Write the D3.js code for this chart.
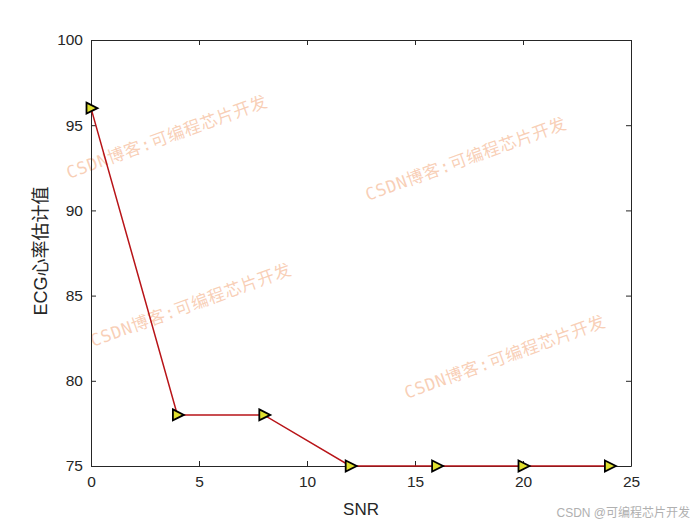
<!DOCTYPE html>
<html><head><meta charset="utf-8">
<script src="https://cdn.jsdelivr.net/npm/d3@7"></script>
<style>body{margin:0;background:#fff;} svg{display:block;}</style>
</head><body>
<script>
const snr = [0, 4, 8, 12, 16, 20, 24];
const hr = [96, 78, 78, 75, 75, 75, 75];
const xTicks = [0, 5, 10, 15, 20, 25];
const yTicks = [75, 80, 85, 90, 95, 100];
const xLabel = "SNR";
const yLabel = "ECG心率估计值";
const wmText = "CSDN博客:可编程芯片开发";
const wmPos = [[167, 138], [466, 160], [191, 306], [505, 358]];
const footer = "CSDN @可编程芯片开发";

const W = 700, H = 525;
const m = {l: 91, r: 631, t: 40, b: 466};
const svg = d3.select("body").append("svg").attr("width", W).attr("height", H);
const x = d3.scaleLinear().domain([0, 25]).range([m.l, m.r]);
const y = d3.scaleLinear().domain([75, 100]).range([m.b, m.t]);
const font = "Arial, 'Liberation Sans', 'Noto Sans CJK SC', sans-serif";

// watermarks
svg.append("g").selectAll("text").data(wmPos).join("text")
  .attr("transform", d => `translate(${d[0]},${d[1]}) rotate(-20)`)
  .attr("text-anchor", "middle").attr("dominant-baseline", "middle")
  .attr("font-family", "'DejaVu Sans Mono', 'Noto Sans CJK SC', monospace")
  .attr("font-size", 17).attr("textLength", 212).attr("lengthAdjust", "spacing")
  .attr("fill", "#f2a070").attr("fill-opacity", 0.5)
  .text(wmText);

// axes
const ax = svg.append("g").attr("font-family", font);
const tl = 5;
ax.append("g").attr("transform", `translate(0,${m.b})`)
  .call(d3.axisBottom(x).tickValues(xTicks).tickSizeInner(-tl).tickSizeOuter(0).tickPadding(10))
  .call(g => g.selectAll("text").attr("font-size", 15.5).attr("fill", "#262626"));
ax.append("g").attr("transform", `translate(0,${m.t})`)
  .call(d3.axisTop(x).tickValues(xTicks).tickSizeInner(-tl).tickSizeOuter(0).tickFormat(""));
ax.append("g").attr("transform", `translate(${m.l},0)`)
  .call(d3.axisLeft(y).tickValues(yTicks).tickSizeInner(-tl).tickSizeOuter(0).tickPadding(8))
  .call(g => g.selectAll("text").attr("font-size", 15.5).attr("fill", "#262626"));
ax.append("g").attr("transform", `translate(${m.r},0)`)
  .call(d3.axisRight(y).tickValues(yTicks).tickSizeInner(-tl).tickSizeOuter(0).tickFormat(""));
ax.selectAll(".domain, .tick line").attr("stroke", "#262626").attr("stroke-width", 1);
ax.selectAll(".tick text").attr("font-family", font);

// labels
svg.append("text").attr("x", (m.l + m.r) / 2).attr("y", 515).attr("text-anchor", "middle")
  .attr("font-family", font).attr("font-size", 17).attr("fill", "#262626").text(xLabel);
svg.append("text").attr("transform", `translate(47,${(m.t + m.b) / 2 - 2}) rotate(-90)`)
  .attr("text-anchor", "middle").attr("font-family", font).attr("font-size", 18)
  .attr("fill", "#262626").text(yLabel);

// line
const pts = snr.map((s, i) => [s, hr[i]]);
svg.append("path").datum(pts)
  .attr("d", d3.line().x(d => x(d[0])).y(d => y(d[1])))
  .attr("fill", "none").attr("stroke", "#b81418").attr("stroke-width", 1.5);

// markers: right-pointing triangle
svg.append("g").selectAll("path").data(pts).join("path")
  .attr("transform", d => `translate(${x(d[0])},${y(d[1])})`)
  .attr("d", "M-4.5,-5.5 L6.5,0 L-4.5,5.5 Z")
  .attr("fill", "#e0e030").attr("stroke", "#000").attr("stroke-width", 1.8)
  .attr("stroke-linejoin", "miter");

// footer
svg.append("text").attr("x", 690).attr("y", 517).attr("text-anchor", "end")
  .attr("font-family", font).attr("font-size", 12).attr("fill", "#b0b0b0").text(footer);
</script>
</body></html>
